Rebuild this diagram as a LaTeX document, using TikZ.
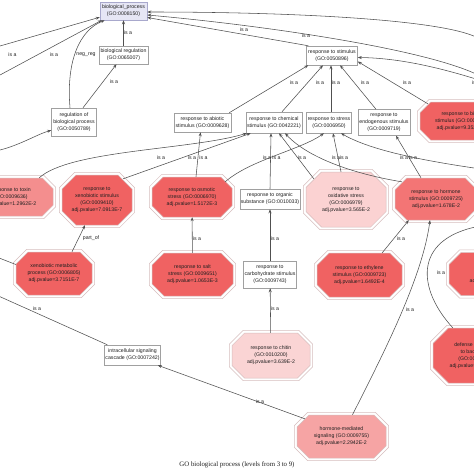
\documentclass[tikz,border=0pt]{standalone}
\usepackage{fontspec}
\newfontfamily\gofont{Liberation Sans}
\newfontfamily\capfont{Liberation Serif}
\usetikzlibrary{arrows.meta}
\definecolor{redA}{HTML}{F06262}
\definecolor{redB}{HTML}{F48E8E}
\definecolor{redE}{HTML}{FBD2D2}
\definecolor{redF}{HTML}{F37575}
\definecolor{redJ}{HTML}{FAD4D4}
\definecolor{redK}{HTML}{F6A4A4}
\definecolor{octline}{HTML}{D6BDBD}
\definecolor{boxc}{HTML}{A0A0A0}
\definecolor{rootfill}{HTML}{E6E6F5}
\definecolor{rootdraw}{HTML}{A8A8CC}
\definecolor{edgec}{HTML}{505050}
\definecolor{txtc}{HTML}{202020}
\newcommand\gofnt{\gofont\fontsize{5.2}{7}\selectfont}
\newcommand\octnode[7]{%
 \pgfmathsetmacro\octA{#4/2}\pgfmathsetmacro\octB{#5/2}\pgfmathsetmacro\octC{0.28*#5}%
 \pgfmathsetmacro\octP{\octA+2.6}\pgfmathsetmacro\octQ{\octB+2.6}\pgfmathsetmacro\octR{\octC+1.1}%
 \path[octouter] ({#2-\octP},{#3-\octQ+\octR}) -- ({#2-\octP+\octR},{#3-\octQ}) -- ({#2+\octP-\octR},{#3-\octQ}) -- ({#2+\octP},{#3-\octQ+\octR}) -- ({#2+\octP},{#3+\octQ-\octR}) -- ({#2+\octP-\octR},{#3+\octQ}) -- ({#2-\octP+\octR},{#3+\octQ}) -- ({#2-\octP},{#3+\octQ-\octR}) -- cycle;
 \path[octinner,fill=#6] ({#2-\octA},{#3-\octB+\octC}) -- ({#2-\octA+\octC},{#3-\octB}) -- ({#2+\octA-\octC},{#3-\octB}) -- ({#2+\octA},{#3-\octB+\octC}) -- ({#2+\octA},{#3+\octB-\octC}) -- ({#2+\octA-\octC},{#3+\octB}) -- ({#2-\octA+\octC},{#3+\octB}) -- ({#2-\octA},{#3+\octB-\octC}) -- cycle;
 \node[octtext,minimum width=#4pt,minimum height=#5pt] (#1) at (#2,#3) {#7};}
\tikzset{
 gobox/.style={draw=boxc, line width=0.5pt, fill=white, align=center, inner sep=0.5pt, font=\gofnt, text=txtc},
 rootbox/.style={gobox, fill=rootfill, draw=rootdraw},
 octtext/.style={align=center, inner sep=0pt, font=\gofnt, text=txtc},
 octouter/.style={draw=octline, line width=0.5pt, fill=white},
 octinner/.style={draw=octline, line width=0.5pt},
 edge/.style={draw=edgec, line width=0.55pt, -{Stealth[length=4pt,width=3pt]}},
 lab/.style={font=\gofnt, text=txtc, inner sep=0pt},
}
\begin{document}
\begin{tikzpicture}[x=1pt,y=-1pt]
\useasboundingbox (0,0) rectangle (474,474);
\fill[white] (0,0) rectangle (474,474);
\clip (0,0) rectangle (474,474);
% boxes
\node[rootbox, minimum width=47pt, minimum height=18pt] (bio) at (123.5,11) {biological\_process\\(GO:0008150)};
\node[gobox, minimum width=49pt, minimum height=18pt] (breg) at (123.5,55) {biological regulation\\(GO:0065007)};
\node[gobox, minimum width=45pt, minimum height=28pt] (rbp) at (74,122) {regulation of\\biological process\\(GO:0050789)};
\node[gobox, minimum width=57pt, minimum height=19pt] (abio) at (202.5,122.5) {response to abiotic\\stimulus (GO:0009628)};
\node[gobox, minimum width=51pt, minimum height=19pt] (stim) at (332,55.5) {response to stimulus\\(GO:0050896)};
\node[gobox, minimum width=56pt, minimum height=21pt] (chem) at (274,122.5) {response to chemical\\stimulus (GO:0042221)};
\node[gobox, minimum width=45pt, minimum height=21pt] (stress) at (329,122.5) {response to stress\\(GO:0006950)};
\node[gobox, minimum width=52pt, minimum height=26pt] (endo) at (384,122.5) {response to\\endogenous stimulus\\(GO:0009719)};
\node[gobox, minimum width=60pt, minimum height=20pt] (org) at (270,199) {response to organic\\substance (GO:0010033)};
\node[gobox, minimum width=53pt, minimum height=27pt] (carb) at (270,274.5) {response to\\carbohydrate stimulus\\(GO:0009743)};
\node[gobox, minimum width=56pt, minimum height=20pt] (intr) at (132.5,355) {intracellular signaling\\cascade (GO:0007242)};
% octagons
\octnode{biot}{462}{121}{84}{38}{redA}{response to biotic\\stimulus (GO:0009607)\\adj.pvalue=9.3524E-3}
\octnode{tox}{11}{197}{84}{38}{redB}{response to toxin\\(GO:0009636)\\adj.pvalue=1.2962E-2}
\octnode{xeno}{97}{200}{70}{50}{redA}{response to\\xenobiotic stimulus\\(GO:0009410)\\adj.pvalue=7.0913E-7}
\octnode{osm}{192}{197}{80}{40}{redA}{response to osmotic\\stress (GO:0006970)\\adj.pvalue=1.5172E-3}
\octnode{oxi}{346}{199.5}{80}{55}{redE}{response to\\oxidative stress\\(GO:0006979)\\adj.pvalue=3.565E-2}
\octnode{horm}{436}{199}{82}{42}{redF}{response to hormone\\stimulus (GO:0009725)\\adj.pvalue=1.678E-2}
\octnode{xmet}{54}{273.5}{76}{43}{redA}{xenobiotic metabolic\\process (GO:0006805)\\adj.pvalue=3.7151E-7}
\octnode{salt}{192.5}{274.5}{81}{43}{redA}{response to salt\\stress (GO:0009651)\\adj.pvalue=1.0653E-3}
\octnode{eth}{359.5}{275}{85}{44}{redA}{response to ethylene\\stimulus (GO:0009723)\\adj.pvalue=1.6492E-4}
\octnode{chit}{271}{355.5}{78}{45}{redJ}{response to chitin\\(GO:0010200)\\adj.pvalue=3.639E-2}
\octnode{hms}{341.5}{436.5}{89}{43}{redK}{hormone-mediated\\signaling (GO:0009755)\\adj.pvalue=2.2942E-2}
\octnode{bas}{495}{274}{92}{43}{redA}{basal defense\\(GO:0045087)\\adj.pvalue=1.2345E-3}
\octnode{def}{475}{355.5}{84}{55}{redA}{defense response\\to bacterium\\(GO:0042742)\\adj.pvalue=1.0000E-3}
% free ends
\coordinate (l1) at (0,46);
\coordinate (l2) at (0,75);
\coordinate (l3) at (0,150);
\coordinate (l4) at (-6,256);
\coordinate (l5) at (-6,294);
\coordinate (r1) at (476,37);
\coordinate (r2) at (476,74);
\coordinate (r3) at (476,79);
\coordinate (r4) at (474,168);
\coordinate (r5) at (480,226);
% edges
\draw[edge] (l1) -- ([yshift=3pt]bio.south west);
\draw[edge] (l2) -- ([xshift=2pt]bio.south west);
\draw[edge] ([xshift=-4pt]rbp.north) .. controls (66,60) and (80,30) .. ([xshift=5pt]bio.south west);
\draw[edge] (breg) -- (bio);
\draw[edge] ([xshift=9pt]rbp.north) -- ([xshift=-7pt]breg.south);
\draw[edge] (r1) .. controls (440,20) and (300,12) .. ([yshift=-1pt]bio.east);
\draw[edge] (r2) .. controls (420,48) and (260,25) .. ([yshift=-4pt]bio.east);
\draw[edge] ([xshift=2pt]stim.north west) -- ([yshift=-6.5pt]bio.east);
\draw[edge] ([xshift=-2pt]abio.north east) -- ([xshift=2pt]stim.south west);
\draw[edge] ([xshift=8pt]chem.north) -- ([xshift=-9pt]stim.south);
\draw[edge] ([xshift=2pt]stress.north) -- ([xshift=-1pt]stim.south);
\draw[edge] ([xshift=-8pt]endo.north) -- ([xshift=8pt]stim.south);
\draw[edge] ([xshift=8pt,yshift=-2pt]biot.north west) -- ([yshift=-6pt]stim.east);
\draw[edge] (r3) .. controls (440,68) and (400,58) .. ([yshift=-2pt]stim.east);
\draw[edge] (l3) .. controls (20,145) and (38,134) .. ([yshift=6pt]rbp.south west);
\draw[edge] ([xshift=-14pt]tox.north east) .. controls (70,150) and (190,150) .. ([xshift=1pt]chem.south west);
\draw[edge] ([xshift=-9pt,yshift=-4pt]xeno.north east) -- ([xshift=5pt]chem.south west);
\draw[edge] ([xshift=4pt]osm.north) -- ([xshift=-2pt]abio.south);
\draw[edge] ([xshift=-7pt,yshift=-5pt]osm.north east) .. controls (250,160) and (300,150) .. ([xshift=-5pt]stress.south);
\draw[edge] (org.north) -- ([xshift=-3pt]chem.south);
\draw[edge] ([xshift=8pt,yshift=-7pt]oxi.north west) -- ([xshift=5pt]chem.south);
\draw[edge] ([xshift=-5pt]oxi.north) -- ([xshift=4pt]stress.south);
\draw[edge] ([xshift=7pt,yshift=-4pt]horm.north west) .. controls (360,175) and (310,160) .. ([xshift=11pt]chem.south);
\draw[edge] ([xshift=-15pt]horm.north) -- ([xshift=12pt]endo.south);
\draw[edge] (r4) .. controls (420,160) and (370,150) .. ([xshift=12pt]stress.south);
\draw[edge] ([xshift=18pt]xmet.north) -- ([xshift=-12pt]xeno.south);
\draw[edge] ([yshift=9pt]xmet.west) -- (l4);
\draw[edge] (salt) -- (osm);
\draw[edge] (carb) -- (org);
\draw[edge] (chit) -- (carb);
\draw[edge] ([xshift=-20pt]eth.north east) -- ([xshift=14pt]horm.south west);
\draw[edge] ([xshift=3pt]intr.north west) -- (l5);
\draw[edge] ([xshift=8pt,yshift=-4pt]hms.north west) -- ([xshift=-3pt]intr.south east);
\draw[edge] ([xshift=11pt]hms.north) .. controls (380,360) and (422,280) .. ([xshift=-6pt]horm.south);
\draw[edge] ([xshift=20pt]def.north west) .. controls (418,290) and (412,240) .. (r5);
% labels
\node[lab] (t1) at (12.5,55) {is a};
\node[lab] (t2) at (54,55) {is a};
\node[lab] (t3) at (86,55) {neg\_reg};
\node[lab] (t4) at (128,33) {is a};
\node[lab] (t5) at (114,82) {is a};
\node[lab] (t6) at (244,30) {is a};
\node[lab] (t7) at (306,36) {is a};
\node[lab] (t8) at (294,83) {is a};
\node[lab] (t9) at (320,83) {is a};
\node[lab] (t10) at (336,83) {is a};
\node[lab] (t11) at (365,83) {is a};
\node[lab] (t12) at (407,83) {is a};
\node[lab] (t13) at (476,83) {is a};
\node[lab] (t14) at (161,158) {is a};
\node[lab] (t15) at (192,158) {is a};
\node[lab] (t16) at (203.5,158) {is a};
\node[lab] (t17) at (267,158) {is a};
\node[lab] (t18) at (276.5,158) {is a};
\node[lab] (t19) at (302,158) {is a};
\node[lab] (t20) at (336,158) {is a};
\node[lab] (t21) at (344,158) {is a};
\node[lab] (t22) at (404,158) {is a};
\node[lab] (t23) at (413,158) {is a};
\node[lab] (t24) at (91,238) {part\_of};
\node[lab] (t25) at (197,239) {is a};
\node[lab] (t26) at (275,239) {is a};
\node[lab] (t27) at (401,239) {is a};
\node[lab] (t28) at (441,273) {is a};
\node[lab] (t29) at (37,309) {is a};
\node[lab] (t30) at (275,309) {is a};
\node[lab] (t31) at (410,310) {is a};
\node[lab] (t32) at (260,402) {is a};
\node[font=\capfont\fontsize{6.8}{8}\selectfont, text=txtc, inner sep=0pt] (cap) at (237,465) {GO biological process (levels from 3 to 9)};
\end{tikzpicture}
\end{document}
